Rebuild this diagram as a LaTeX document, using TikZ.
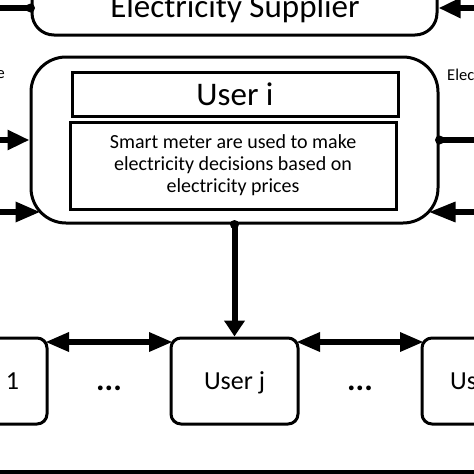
\documentclass[tikz,border=0pt]{standalone}
\usepackage{fontspec}
\setmainfont{Carlito}
\usetikzlibrary{arrows.meta}
\begin{document}
\begin{tikzpicture}[x=1pt,y=-1pt,
  bigbox/.style={draw,line width=3pt,inner sep=0pt},
  conn/.style={line width=6pt},
  tipa/.style={-{Triangle[length=22pt,width=19pt]}},
  tipb/.style={{Triangle[length=24pt,width=18pt]}-{Triangle[length=24pt,width=18pt]}},
  dotc/.style={fill=black,circle,inner sep=0pt,minimum size=9pt},
  big/.style={font=\fontsize{33}{36}\selectfont},
  mid/.style={font=\fontsize{26}{30}\selectfont},
  dots/.style={font=\fontsize{32}{36}\selectfont\bfseries},
  desc/.style={font=\fontsize{20}{22}\selectfont,align=center},
  lab/.style={font=\fontsize{16.5}{19}\selectfont,inner sep=0pt}]
\useasboundingbox (0,0) rectangle (474,474);
\clip (0,0) rectangle (474,474);
% supplier
\node[bigbox,rounded corners=22pt,minimum width=405pt,minimum height=75pt] (sup) at (234.5,-2.5) {};
\node[big,anchor=base,inner sep=0pt] (suptext) at (235,17) {Electricity Supplier};
% user i
\node[bigbox,rounded corners=35pt,minimum width=407pt,minimum height=166pt] (useri) at (234.5,140) {};
\node[bigbox,minimum width=326pt,minimum height=44pt,big] (title) at (235,94) {User i};
\node[bigbox,minimum width=326pt,minimum height=87pt,desc] (descbox) at (233,165.5)
  {Smart meter are used to make\\electricity decisions based on\\electricity prices};
% side labels
\node[lab,anchor=east] (le) at (5,75) {e};
\node[lab,anchor=west] (re) at (447,75) {Elec};
% lower users
\node[bigbox,rounded corners=10pt,minimum width=127pt,minimum height=86pt] (user1) at (-16.5,381) {};
\node[bigbox,rounded corners=10pt,minimum width=127pt,minimum height=86pt] (userj) at (234.5,381) {};
\node[bigbox,rounded corners=10pt,minimum width=127pt,minimum height=86pt] (usern) at (485.5,381) {};
\node[mid,anchor=base,inner sep=0pt] (t1) at (12.5,389) {1};
\node[mid,anchor=base,inner sep=0pt] (tj) at (234.5,389) {User j};
\node[mid,anchor=base west,inner sep=0pt] (tn) at (450,389) {Us};
\node[dots,anchor=base,inner sep=0pt] (d1) at (109,390) {...};
\node[dots,anchor=base,inner sep=0pt] (d2) at (360,390) {...};
% coordinates for free ends
\coordinate (sl) at (0,8);
\coordinate (sr) at (474,8);
\coordinate (l1) at (0,140);
\coordinate (r1) at (474,140);
\coordinate (l2) at (0,212);
\coordinate (r2) at (474,212);
\coordinate (c2l) at (40.5,212);
\coordinate (c2r) at (428.5,212);
\coordinate (u1e) at (45,342);
\coordinate (ujw) at (173,342);
\coordinate (uje) at (296,342);
\coordinate (unw) at (424,342);
\coordinate (bl) at (0,472);
\coordinate (br) at (474,472);
% supplier connectors
\draw[conn] (sl) -- (sup.west |- sl);
\node[dotc] at (sup.west |- sl) {};
\draw[conn,tipa] (sr) -- (sup.east |- sr);
% user i connectors
\draw[conn,tipa] (l1) -- (useri.west);
\draw[conn] (useri.east) -- (r1);
\node[dotc] at (useri.east) {};
\draw[conn,-{Triangle[length=25pt,width=19pt]}] (l2) -- (c2l);
\draw[conn,-{Triangle[length=27pt,width=19pt]}] (r2) -- (c2r);
\draw[conn,-{Triangle[length=16pt,width=20pt]}] (useri.south) -- (userj.north);
\node[dotc] at (useri.south) {};
% between users
\draw[conn,tipb] (u1e) -- (ujw);
\draw[conn,tipb] (uje) -- (unw);
% bottom line
\draw[line width=5pt] (bl) -- (br);
\end{tikzpicture}
\end{document}
